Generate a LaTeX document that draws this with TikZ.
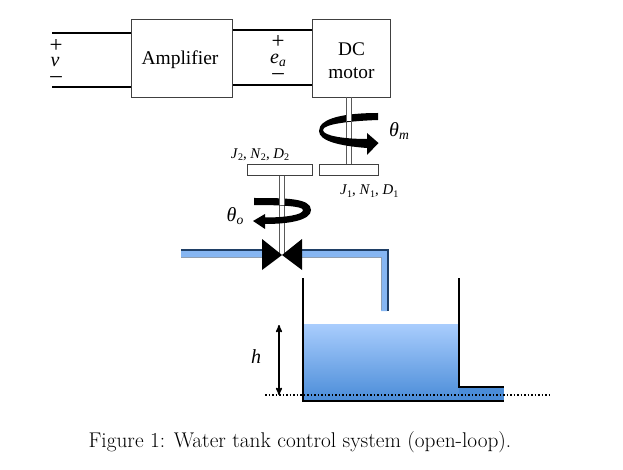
\documentclass[tikz,border=0pt]{standalone}
\usepackage{fontspec}
\setmainfont{Liberation Serif}
\newfontfamily\capfont{Latin Modern Roman}
\usetikzlibrary{shapes,arrows,positioning}
\definecolor{waterlight}{HTML}{A9CDFD}
\definecolor{waterdark}{HTML}{4A8CD8}
\definecolor{pipeblue}{HTML}{86B6F2}
\definecolor{pipeedge}{HTML}{1F3F66}
\newcommand{\varsub}[2]{\textit{#1}\raisebox{-0.3ex}{\scalebox{0.68}{\textit{#2}}}}
\newcommand{\numsub}[2]{\textit{#1}\raisebox{-0.3ex}{\scalebox{0.68}{#2}}}
\tikzstyle{block} = [rectangle, draw=black!75, line width=0.8pt, fill=white, inner sep=0pt, align=center]
\tikzstyle{gear} = [rectangle, draw=black!75, line width=0.7pt, fill=white, inner sep=0pt]
\tikzstyle{wire} = [draw, line width=1.5pt]
\tikzstyle{shaft} = [draw=black!65, line width=0.8pt]
\tikzstyle{wall} = [draw, line width=1.5pt]
\tikzstyle{pipe} = [fill=pipeblue, draw=none]
\tikzstyle{pipetop} = [draw=pipeedge, line width=1.1pt]
\tikzstyle{lbl} = [inner sep=0pt, font=\fontsize{20}{20}\selectfont]
\tikzstyle{sign} = [inner sep=0pt, font=\fontsize{23}{23}\selectfont]
\tikzstyle{small} = [inner sep=0pt, font=\fontsize{14.8}{16}\selectfont]
\begin{document}
\begin{tikzpicture}[x=1pt, y=-1pt]
    \useasboundingbox (0,0) rectangle (623,470);
    % Place nodes
    \node [block, minimum width=101pt, minimum height=78pt, text height=17pt, font=\fontsize{19.5}{22}\selectfont] (amp) at (182,58) {\hspace*{-4pt}Amplifier};
    \node [block, minimum width=78pt, minimum height=78pt, font=\fontsize{19.3}{23}\selectfont] (motor) at (351.5,58) {\rule{0pt}{19pt}DC\\motor};
    \node [gear, minimum width=65pt, minimum height=11.5pt] (gear2) at (280,170) {};
    \node [gear, minimum width=59pt, minimum height=11.5pt, right=6.5pt of gear2] (gear1) {};
    % Labels
    \node [sign] (vplus) at (56,46) {+};
    \node [lbl] (vlab) at (55,62) {\textit{v}};
    \node [sign] (vminus) at (56,80) {\textendash};
    \node [sign] (eplus) at (278,42) {+};
    \node [lbl] (ealab) at (278,60) {\varsub{e}{a}};
    \node [sign] (eminus) at (278,77) {\textendash};
    \node [small, above=3pt of gear2, xshift=-20pt] (jtwo) {\numsub{J}{2}, \numsub{N}{2}, \numsub{D}{2}};
    \node [small, below=9pt of gear1, xshift=20pt] (jone) {\numsub{J}{1}, \numsub{N}{1}, \numsub{D}{1}};
    \node [lbl] (thetam) at (399,131) {\varsub{θ}{m}};
    \node [lbl] (thetao) at (235,216) {\varsub{θ}{o}};
    \node [lbl] (hlab) at (256,357) {\textit{h}};
    \node [inner sep=0pt, font=\capfont\fontsize{21.3}{24}\selectfont] (caption) at (300,442) {Figure 1: Water tank control system (open-loop).};
    % Water and tank
    \shade [top color=waterlight, bottom color=waterdark] (303,324) rectangle (459,401);
    \fill [waterdark] (459,387) rectangle (504,401);
    \coordinate (leftin) at (303,278);
    \coordinate (leftbot) at (303,401);
    \coordinate (botend) at (504,401);
    \coordinate (rightin) at (459,278);
    \coordinate (rightbot) at (459,387);
    \coordinate (outend) at (504,387);
    \path [wall] (leftin) -- (leftbot) -- (botend);
    \path [wall] (rightin) -- (rightbot) -- (outend);
    % Level line
    \coordinate (lvla) at (265,395);
    \coordinate (lvlb) at (549,395);
    \draw [line width=1.5pt, dotted] (lvla) -- (lvlb);
    \coordinate (harrtop) at (279,325);
    \coordinate (harrbot) at (279,395);
    \draw [stealth'-stealth', line width=1.5pt] (harrtop) -- (harrbot);
    % Pipe
    \path [pipe] (181,250) rectangle (264,257);
    \path [pipe] (300,250) -- (387,250) -- (387,311) -- (381,311) -- (381,257) -- (300,257) -- cycle;
    \coordinate (pipea) at (181,250);
    \coordinate (pipeb) at (262,250);
    \coordinate (pipec) at (302,250);
    \coordinate (piped) at (388,250);
    \coordinate (pipee) at (388,311);
    \path [pipetop] (pipea) -- (pipeb);
    \path [pipetop] (pipec) -- (piped) -- (pipee);
    \draw [pipeedge!50, line width=0.6pt] (181,257) -- (262,257) (302,257) -- (381,257) -- (381,310);
    % Shafts
    \draw [shaft] (346,97) -- (346,164) (351,97) -- (351,164);
    \draw [shaft] (279,176) -- (279,255) (284,176) -- (284,255);
    % Rotation arrows
    \fill (378,113) .. controls (345,113) and (319,118) .. (319,131)
        .. controls (319,141) and (340,146) .. (367,148) -- (367,155) -- (378.5,143) -- (367,133) -- (367,139)
        .. controls (345,139) and (323,136) .. (323,130)
        .. controls (323,124) and (350,121) .. (378,120) -- cycle;
    \fill [white] (346,113) rectangle (351,121.5);
    \draw [shaft] (346,112.5) -- (346,122) (351,112.5) -- (351,122);
    \fill (254,198) .. controls (285,198) and (311,198) .. (311,210)
        .. controls (311,220) and (290,224) .. (265,224) -- (265,229) -- (253,221) -- (265,214) -- (265,217.5)
        .. controls (285,217.5) and (303,215) .. (303,210)
        .. controls (303,206) and (280,205) .. (254,205) -- cycle;
    \fill [white] (279,197.5) rectangle (284,205);
    \draw [shaft] (279,197.5) -- (279,205.5) (284,197.5) -- (284,205.5);
    % Valve
    \fill (262,239) -- (282,255) -- (262,270) -- cycle;
    \fill (302,239) -- (282,255) -- (302,270) -- cycle;
    % Draw edges
    \coordinate (vtop) at (52,33);
    \coordinate (vbot) at (52,87);
    \coordinate (eatop) at (233,30);
    \coordinate (eabot) at (233,85);
    \path [wire] (vtop) -- (vtop -| amp.west);
    \path [wire] (vbot) -- (vbot -| amp.west);
    \path [wire] (eatop) -- (eatop -| motor.west);
    \path [wire] (eabot) -- (eabot -| motor.west);
\end{tikzpicture}
\end{document}
